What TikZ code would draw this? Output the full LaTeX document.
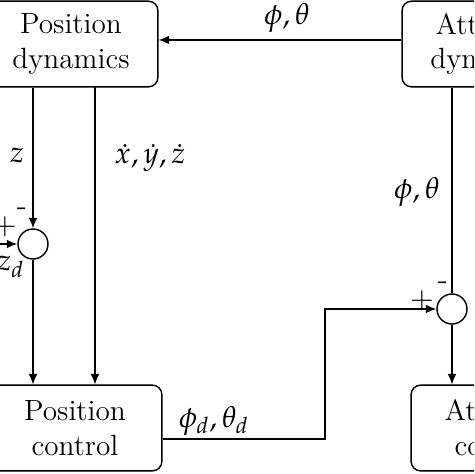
\documentclass[tikz,border=0pt]{standalone}
\usepackage{amsmath}
\usepackage{amssymb}
\usepackage{mathpazo}
\usepackage{tikz}
\usetikzlibrary{arrows.meta}

\tikzset{
bloque/.style={draw,line width=0.6pt,rounded corners=4pt,align=center,
  minimum width=73pt,minimum height=36pt,font=\fontsize{12.3}{14.6}\selectfont},
suma/.style={draw,line width=0.6pt,circle,minimum size=12.6pt,inner sep=0pt},
etiq/.style={font=\fontsize{12.5}{14}\selectfont},
signo/.style={font=\fontsize{13}{13}\selectfont\bfseries,inner sep=0pt},
flecha/.style={-{Latex[length=4.4pt,width=3.6pt]}}
}

\begin{document}
\begin{tikzpicture}[x=0.42pt,y=-0.42pt,line width=0.5pt]
\useasboundingbox (0,0) rectangle (474,474);
\clip (0,0) rectangle (474,474);

%Bloques del diagrama
\node[bloque] (posdyn) at (71,44) {Position\\dynamics};
\node[bloque] (attdyn) at (489,44) {Attitude\\dynamics};
\node[bloque] (posctrl) at (75,428) {Position\\control};
\node[bloque] (attctrl) at (498,428) {Attitude\\control};

%Sumadores
\node[suma] (sumz) at (33,244) {};
\node[suma] (sumatt) at (452,309) {};

%Puntos auxiliares
\coordinate (zin) at (-10,244);
\coordinate (vel) at (95,87);
\coordinate (giro) at (325,439);

%Conexiones
\draw[flecha] ([yshift=1.7pt]attdyn.west) -- ([yshift=1.7pt]posdyn.east);
\draw[flecha] (sumz |- posdyn.south) -- (sumz);
\draw[flecha] (sumz) -- (sumz |- posctrl.north);
\draw[flecha] (vel) -- (vel |- posctrl.north);
\draw[flecha] (zin) -- (sumz);
\draw (sumatt |- attdyn.south) -- (sumatt);
\draw[flecha] (posctrl.east |- giro) -- (giro) |- (sumatt.west);
\draw[flecha] (sumatt) -- (sumatt |- attctrl.north);

%Etiquetas de las senales
\node[etiq] (fitop) at (287,18) {$\phi,\theta$};
\node[etiq] (zlab) at (17,155) {$z$};
\node[etiq] (vlab) at (150,158) {$\dot{x},\dot{y},\dot{z}$};
\node[etiq] (fider) at (417,192) {$\phi,\theta$};
\node[etiq] (zd) at (11,267) {$z_d$};
\node[etiq] (phid) at (214,421) {$\phi_d,\theta_d$};

%Signos de los sumadores
\node[signo] (mas1) at (5,227) {+};
\node[signo] (menos1) at (22,212) {-};
\node[signo] (mas2) at (422,301) {+};
\node[signo] (menos2) at (443,286) {-};
\end{tikzpicture}
\end{document}
